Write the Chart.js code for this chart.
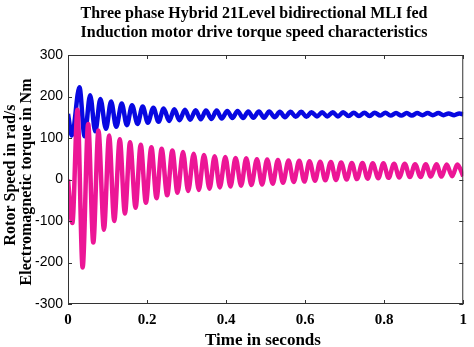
<!DOCTYPE html>
<html>
<head>
<meta charset="utf-8">
<script src="https://cdn.jsdelivr.net/npm/chart.js@4.4.0/dist/chart.umd.min.js"></script>
<style>
  body { margin: 0; background: #fff; }
  #wrap { width: 474px; height: 347px; }
</style>
</head>
<body>
<div id="wrap"><canvas id="myChart" width="474" height="347"></canvas></div>
<script>
// electromagnetic torque (magenta), times of the turning points
const torqueTime = [
    0, 0.011, 0.024, 0.037, 0.051, 0.064, 0.077, 0.091, 0.104, 0.117, 0.131,
    0.144, 0.157, 0.171, 0.184, 0.197, 0.211, 0.224, 0.237, 0.251, 0.264,
    0.277, 0.291, 0.304, 0.318, 0.331, 0.344, 0.358, 0.371, 0.384, 0.398,
    0.411, 0.424, 0.438, 0.451, 0.464, 0.478, 0.491, 0.504, 0.518, 0.531,
    0.544, 0.558, 0.571, 0.585, 0.598, 0.611, 0.625, 0.638, 0.651, 0.665,
    0.678, 0.691, 0.705, 0.718, 0.731, 0.745, 0.758, 0.771, 0.785, 0.798,
    0.811, 0.825, 0.838, 0.852, 0.865, 0.878, 0.892, 0.905, 0.918, 0.932,
    0.945, 0.958, 0.972, 0.985, 1.0
];
const torqueValue = [
    0, -105, 168, -212, 134, -152, 118, -121, 106, -100, 97,
    -82, 90, -68, 84, -56, 78, -45, 74, -38, 70,
    -32, 66, -28, 62, -25, 59, -22, 56, -19, 54,
    -17, 52, -15, 51, -13, 49, -12, 48, -10, 47,
    -8, 46, -6, 45, -5, 44, -3, 43, -2, 42,
    -1, 41, 0, 40, 1, 40, 2, 39, 3, 39,
    4, 38, 5, 38, 6, 37, 6, 37, 7, 37,
    7, 36, 8, 36, 8
];

// rotor speed (blue)
const speedTime = [
    0, 0.010, 0.029, 0.042, 0.056, 0.069, 0.082, 0.096, 0.109, 0.122, 0.136,
    0.149, 0.162, 0.176, 0.189, 0.202, 0.216, 0.229, 0.242, 0.256, 0.269,
    0.282, 0.296, 0.309, 0.323, 0.336, 0.349, 0.363, 0.376, 0.389, 0.403,
    0.416, 0.429, 0.443, 0.456, 0.469, 0.483, 0.496, 0.509, 0.523, 0.536,
    0.549, 0.563, 0.576, 0.590, 0.603, 0.616, 0.630, 0.643, 0.656, 0.670,
    0.683, 0.696, 0.710, 0.723, 0.736, 0.750, 0.763, 0.776, 0.790, 0.803,
    0.816, 0.830, 0.843, 0.857, 0.870, 0.883, 0.897, 0.910, 0.923, 0.937,
    0.950, 0.963, 0.977, 0.990, 1.0
];
const speedValue = [
    158, 106, 222, 104, 203, 116, 194, 122, 188, 127, 183,
    131, 179, 134, 176, 137, 173, 139, 171, 141, 169,
    143, 168, 144, 167, 145, 166, 146, 166, 147, 165,
    148, 165, 148, 164, 149, 164, 149, 164, 150, 163,
    150, 163, 151, 163, 151, 162, 152, 162, 152, 162,
    152, 162, 153, 161, 153, 161, 153, 161, 154, 161,
    154, 160, 154, 160, 154, 160, 155, 160, 155, 160,
    155, 159, 155, 159, 157
];

const xTicks = [0, 0.2, 0.4, 0.6, 0.8, 1];
const yTicks = [-300, -200, -100, 0, 100, 200, 300];

const titleLines = ["Three phase Hybrid 21Level bidirectional MLI fed", "Induction motor drive torque speed characteristics"];
const yTitleLines = ["Rotor Speed in rad/s", "Electromagnetic torque in Nm"];
const xTitle = "Time in seconds";

function toPoints(xs, ys) {
    let pts = [];
    for (let i = 0; i < xs.length; i++) {
        pts.push({ x: xs[i], y: ys[i] });
    }
    return pts;
}

// box with inward tick marks plus the text, matlab style
const framePlugin = {
    id: 'frame',
    afterDraw: function (chart) {
        let ctx = chart.ctx;
        let a = chart.chartArea;
        let xs = chart.scales.x;
        let ys = chart.scales.y;
        ctx.save();
        ctx.strokeStyle = '#333';
        ctx.lineWidth = 1;
        ctx.strokeRect(a.left + 0.5, a.top + 0.5, a.right - a.left - 1, a.bottom - a.top - 1);
        ctx.beginPath();
        xTicks.forEach(function (v) {
            let px = Math.round(xs.getPixelForValue(v)) + 0.5;
            ctx.moveTo(px, a.bottom);
            ctx.lineTo(px, a.bottom - 4);
            ctx.moveTo(px, a.top);
            ctx.lineTo(px, a.top + 4);
        });
        yTicks.forEach(function (v) {
            let py = Math.round(ys.getPixelForValue(v)) + 0.5;
            ctx.moveTo(a.left, py);
            ctx.lineTo(a.left + 4, py);
            ctx.moveTo(a.right, py);
            ctx.lineTo(a.right - 4, py);
        });
        ctx.stroke();

        ctx.fillStyle = '#000';
        ctx.textAlign = 'center';
        ctx.textBaseline = 'alphabetic';
        ctx.font = 'bold 16px "Liberation Serif"';
        ctx.fillText(titleLines[0], 254, 18);
        ctx.fillText(titleLines[1], 254, 37);

        ctx.font = 'bold 17px "Liberation Serif"';
        ctx.fillText(xTitle, 263, 345);

        ctx.font = 'bold 16px "Liberation Serif"';
        ctx.textBaseline = 'middle';
        ctx.save();
        ctx.translate(11, 175);
        ctx.rotate(-Math.PI / 2);
        ctx.fillText(yTitleLines[0], 0, 0);
        ctx.restore();
        ctx.translate(27, 182);
        ctx.rotate(-Math.PI / 2);
        ctx.fillText(yTitleLines[1], 0, 0);
        ctx.restore();
    }
};

function createChart(id) {
    const data = {
        datasets: [{
            label: 'Electromagnetic torque',
            data: toPoints(torqueTime, torqueValue),
            borderColor: 'rgb(236, 22, 150)',
            borderWidth: 4.5,
            pointRadius: 0,
            cubicInterpolationMode: 'monotone'
        }, {
            label: 'Rotor speed',
            data: toPoints(speedTime, speedValue),
            borderColor: 'rgb(8, 8, 225)',
            borderWidth: 4.5,
            pointRadius: 0,
            cubicInterpolationMode: 'monotone'
        }]
    };
    const config = {
        type: 'line',
        data: data,
        options: {
            responsive: false,
            animation: false,
            layout: { padding: { top: 55, right: 5, left: 0, bottom: 0 } },
            plugins: { legend: { display: false }, title: { display: false }, tooltip: { enabled: false } },
            scales: {
                x: {
                    type: 'linear',
                    min: 0,
                    max: 1,
                    afterBuildTicks: function (s) { s.ticks = xTicks.map(v => ({ value: v })); },
                    afterFit: function (s) { s.height = 43; },
                    grid: { display: false, drawTicks: false },
                    border: { display: false },
                    ticks: {
                        color: '#000',
                        padding: 7,
                        maxRotation: 0,
                        autoSkip: false,
                        font: { family: 'Liberation Serif', size: 15, weight: 'bold' },
                        callback: function (v) { return String(v); }
                    }
                },
                y: {
                    type: 'linear',
                    min: -300,
                    max: 300,
                    afterBuildTicks: function (s) { s.ticks = yTicks.map(v => ({ value: v })); },
                    afterFit: function (s) { s.width = 68; },
                    grid: { display: false, drawTicks: false },
                    border: { display: false },
                    ticks: {
                        color: '#000',
                        padding: 5,
                        autoSkip: false,
                        font: { family: 'Liberation Sans', size: 14 },
                        callback: function (v) { return String(v); }
                    }
                }
            }
        },
        plugins: [framePlugin]
    };
    let c = document.getElementById(id).getContext("2d");
    var curchart = new Chart(c, config);
}

createChart("myChart");
</script>
</body>
</html>
